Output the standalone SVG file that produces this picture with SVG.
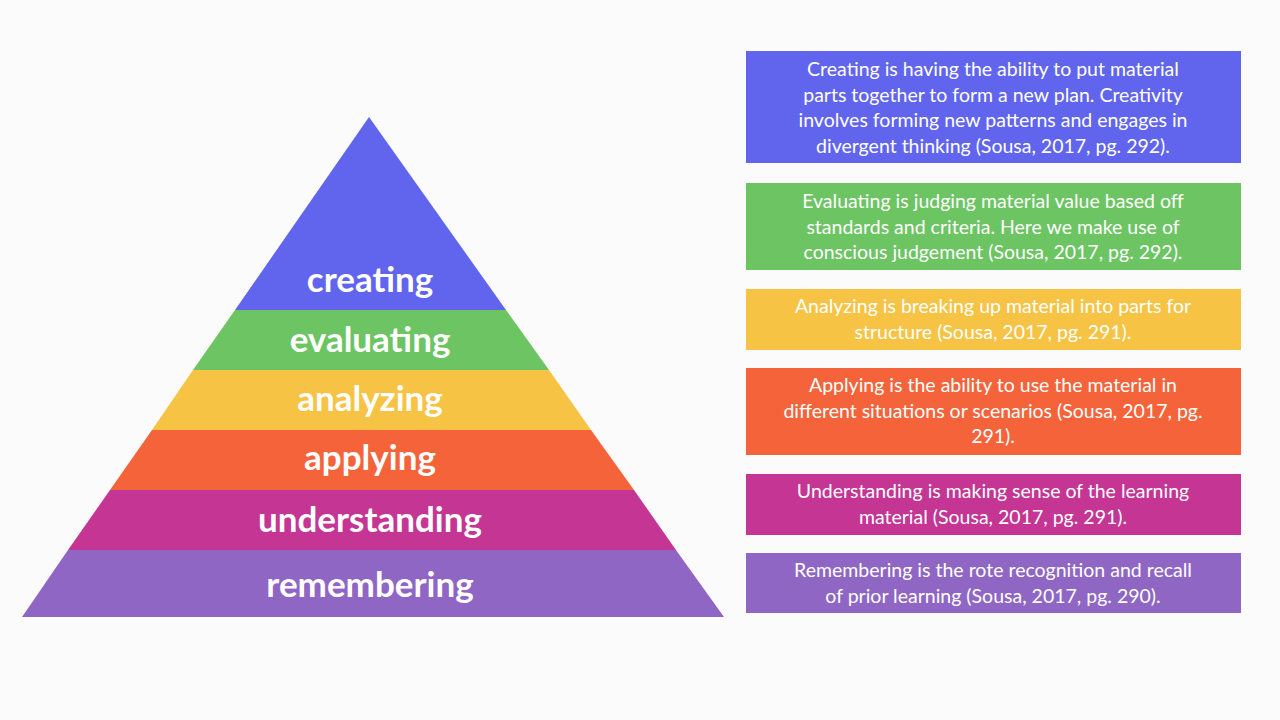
<svg xmlns="http://www.w3.org/2000/svg" width="1280" height="720" viewBox="0 0 1280 720">
<style>
.lbl{font-family:Lato,"Liberation Sans",sans-serif;font-weight:bold;font-size:35px;fill:#fff;text-anchor:middle}
.txt{font-family:Lato,"Liberation Sans",sans-serif;font-size:19.5px;fill:#fff;text-anchor:middle}
</style>
<rect width="1280" height="720" fill="#fbfbfb"/>
<g id="pyramid">
<g id="creating"><polygon points="369,117 235,310 506,310" fill="#6165ee"/><text class="lbl" x="370" y="292">creating</text></g>
<g id="evaluating"><polygon points="235,310 506,310 549,370 193,370" fill="#6cc463"/><text class="lbl" x="370" y="352">evaluating</text></g>
<g id="analyzing"><polygon points="193,370 549,370 591,430 152,430" fill="#f7c344"/><text class="lbl" x="370" y="411">analyzing</text></g>
<g id="applying"><polygon points="152,430 591,430 634,490 110,490" fill="#f4633a"/><text class="lbl" x="370" y="470">applying</text></g>
<g id="understanding"><polygon points="110,490 634,490 676,550 68,550" fill="#c53594"/><text class="lbl" x="370" y="532">understanding</text></g>
<g id="remembering"><polygon points="68,550 676,550 724,617 22,617" fill="#9066c4"/><text class="lbl" x="370" y="597">remembering</text></g>
</g>
<g id="boxes">
<g id="b1"><rect x="746" y="51" width="495" height="112" fill="#6165ee"/>
<text class="txt" x="993" y="76">Creating is having the ability to put material</text>
<text class="txt" x="993" y="102">parts together to form a new plan. Creativity</text>
<text class="txt" x="993" y="127">involves forming new patterns and engages in</text>
<text class="txt" x="993" y="153">divergent thinking (Sousa, 2017, pg. 292).</text></g>
<g id="b2"><rect x="746" y="183" width="495" height="87" fill="#6cc463"/>
<text class="txt" x="993" y="208">Evaluating is judging material value based off</text>
<text class="txt" x="993" y="234">standards and criteria. Here we make use of</text>
<text class="txt" x="993" y="259">conscious judgement (Sousa, 2017, pg. 292).</text></g>
<g id="b3"><rect x="746" y="289" width="495" height="61" fill="#f7c344"/>
<text class="txt" x="993" y="313">Analyzing is breaking up material into parts for</text>
<text class="txt" x="993" y="339">structure (Sousa, 2017, pg. 291).</text></g>
<g id="b4"><rect x="746" y="368" width="495" height="87" fill="#f4633a"/>
<text class="txt" x="993" y="392">Applying is the ability to use the material in</text>
<text class="txt" x="993" y="418">different situations or scenarios (Sousa, 2017, pg.</text>
<text class="txt" x="993" y="443">291).</text></g>
<g id="b5"><rect x="746" y="474" width="495" height="61" fill="#c53594"/>
<text class="txt" x="993" y="498">Understanding is making sense of the learning</text>
<text class="txt" x="993" y="524">material (Sousa, 2017, pg. 291).</text></g>
<g id="b6"><rect x="746" y="553" width="495" height="60" fill="#9066c4"/>
<text class="txt" x="993" y="577">Remembering is the rote recognition and recall</text>
<text class="txt" x="993" y="603">of prior learning (Sousa, 2017, pg. 290).</text></g>
</g>
<g id="connectors"/>
</svg>
